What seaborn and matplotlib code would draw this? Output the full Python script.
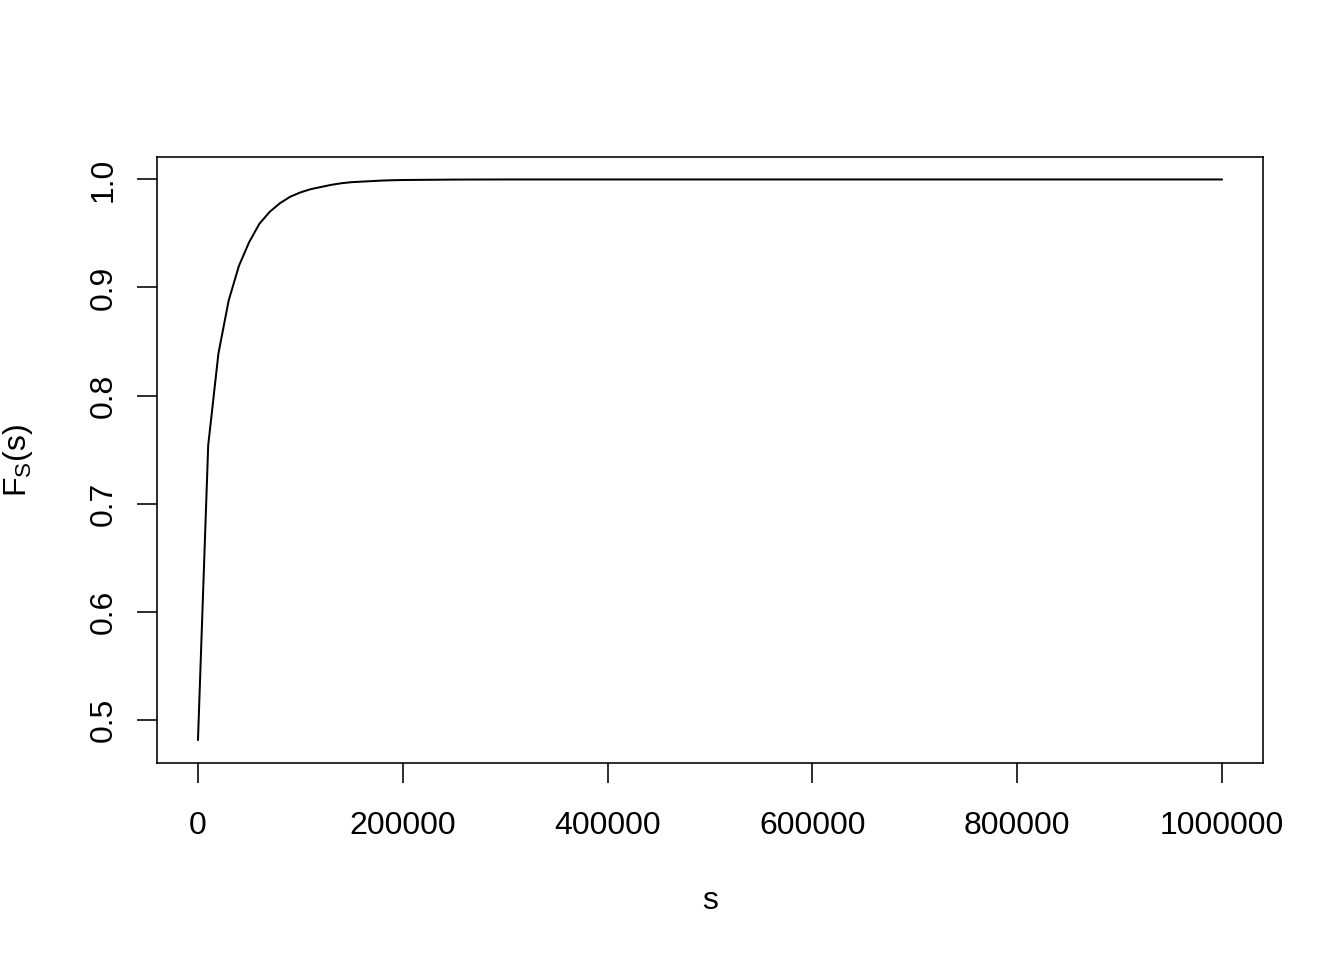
import matplotlib
matplotlib.use("Agg")
import matplotlib.pyplot as plt
import seaborn as sns
import pandas as pd

# values
s_vals = [0, 10000, 20000, 30000, 40000, 50000, 60000, 70000, 80000, 90000,
          100000, 110000, 120000, 130000, 140000, 150000, 160000, 170000,
          180000, 190000, 200000, 250000, 300000, 400000, 500000, 600000,
          700000, 800000, 900000, 1000000]
F_vals = [0.481, 0.754, 0.839, 0.888, 0.920, 0.942, 0.959, 0.970, 0.978, 0.984,
          0.988, 0.991, 0.993, 0.995, 0.9965, 0.9975, 0.998, 0.9985,
          0.999, 0.9993, 0.9995, 0.9999, 1.0, 1.0, 1.0, 1.0,
          1.0, 1.0, 1.0, 1.0]
x_ticks = [0, 200000, 400000, 600000, 800000, 1000000]
y_ticks = [0.5, 0.6, 0.7, 0.8, 0.9, 1.0]

df = pd.DataFrame({"s": s_vals, "F": F_vals})

sns.set_style("white")
plt.rcParams['font.family'] = ['Liberation Sans', 'DejaVu Sans']
plt.rcParams['mathtext.fontset'] = 'custom'
plt.rcParams['mathtext.rm'] = 'Liberation Sans'

fig = plt.figure(figsize=(14, 10), dpi=96)
ax = fig.add_axes([157 / 1344, 1 - 763 / 960, (1263 - 157) / 1344, (763 - 157) / 960])

sns.lineplot(data=df, x="s", y="F", color="black", linewidth=1.5, ax=ax)

ax.set_xlim(-40000, 1040000)
ax.set_ylim(0.4598, 1.0208)
ax.set_xticks(x_ticks)
ax.set_xticklabels([str(t) for t in x_ticks])
ax.set_yticks(y_ticks)
ax.set_yticklabels([f"{t:.1f}" for t in y_ticks], rotation=90, va="center")

ax.tick_params(axis="both", direction="out", length=15, width=1.2,
               labelsize=24, color="black", labelcolor="black",
               bottom=True, left=True)
ax.tick_params(axis="x", pad=21)
ax.tick_params(axis="y", pad=14)
for sp in ax.spines.values():
    sp.set_visible(True)
    sp.set_color("black")
    sp.set_linewidth(1.2)

ax.set_xlabel("s", fontsize=24, labelpad=34, color="black")
ax.set_ylabel(r"F$_\mathrm{S}$(s)", fontsize=24, labelpad=40, color="black")

plt.savefig("out.png", dpi=96)
plt.close()
